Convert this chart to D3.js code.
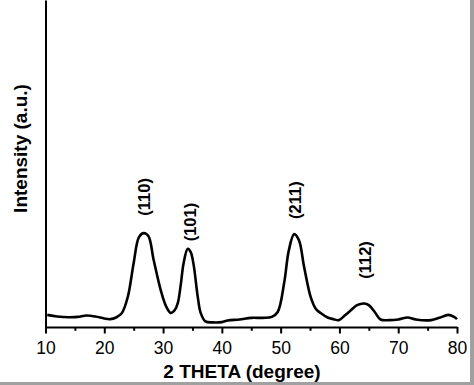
<!DOCTYPE html>
<html>
<head>
<meta charset="utf-8">
<script src="https://cdn.jsdelivr.net/npm/d3@7"></script>
<style>
  body { margin: 0; background: #fff; }
  svg { display: block; font-family: "Liberation Sans", Arial, sans-serif; }
</style>
</head>
<body>
<svg id="chart"></svg>
<script>
var width = 474;
var height = 385;

// XRD pattern (intensity in arbitrary units)
var twoTheta = [10.3, 12, 14, 15.5, 17, 18.5, 20, 21, 22, 23, 24, 25, 25.9, 26.7, 27.5, 28.4, 29.6, 30.5, 31.3,
    32, 32.5, 33, 33.5, 34.2, 34.7, 35.2, 35.9, 36.4, 37.2, 38.5, 40, 41, 43, 45, 47, 48.5, 49.5, 50.6, 51.4,
    52.3, 53.1, 54, 55.1, 56, 56.8, 58, 59, 59.9, 61, 62, 63, 64.2, 65, 66, 67, 68.5, 70, 71.6, 73, 75.6, 77,
    78.5, 79.5, 80];
var intensity = [3.7, 3.2, 3.0, 3.1, 3.5, 3.2, 2.6, 2.4, 2.9, 4.3, 9.2, 19.6, 27.5, 28.7, 27.8, 20.5, 11.3, 6.4, 4.3,
    5.2, 7.3, 12.8, 19.6, 23.9, 22.9, 19.0, 9.2, 4.3, 1.7, 1.4, 1.5, 2.0, 2.3, 2.8, 2.8, 3.1, 4.6, 13.5, 23.5,
    28.4, 26.6, 18.3, 9.2, 5.5, 4.3, 2.9, 2.4, 2.1, 3.7, 5.2, 6.7, 7.2, 6.7, 4.6, 2.3, 2.1, 2.3, 2.9, 2.3, 2.1, 2.8,
    3.7, 3.1, 2.4];

var peakLabels = ["(110)", "(101)", "(211)", "(112)"];
var peakTheta = [26.75, 34.5, 52.5, 64.3];
var peakLabelLevel = [39.8, 32.1, 38.8, 20.5];

var majorTicks = [10, 20, 30, 40, 50, 60, 70, 80];
var minorTicks = [15, 25, 35, 45, 55, 65, 75];

var data = twoTheta.map((t, i) => ({ t: t, v: intensity[i] }));

var svg = d3.select("#chart")
    .attr("width", width)
    .attr("height", height);

svg.append("rect")
    .attr("width", width)
    .attr("height", height)
    .attr("fill", "#fff");

// grey frame of the scanned figure
svg.append("rect")
    .attr("x", 470).attr("y", 0)
    .attr("width", 4).attr("height", height)
    .attr("fill", "#a0a0a0");
svg.append("rect")
    .attr("x", 0).attr("y", 382)
    .attr("width", width).attr("height", 3)
    .attr("fill", "#a0a0a0");

var x = d3.scaleLinear().domain([10, 80]).range([45.5, 457]);
var y = d3.scaleLinear().domain([0, 100]).range([327, 0]);

// minor ticks
svg.append("g")
    .attr("transform", "translate(0,327)")
    .call(d3.axisBottom(x).tickValues(minorTicks).tickSize(3.8).tickFormat(""))
    .call(g => g.select(".domain").remove())
    .selectAll("line").attr("stroke", "#000").attr("stroke-width", 2);

var xAxis = svg.append("g")
    .attr("transform", "translate(0,327)")
    .call(d3.axisBottom(x).tickValues(majorTicks).tickSize(6.5).tickSizeOuter(0).tickPadding(8.5));
xAxis.select(".domain").attr("stroke", "#000").attr("stroke-width", 2);
xAxis.selectAll(".tick line").attr("stroke", "#000").attr("stroke-width", 2);
xAxis.selectAll("text")
    .attr("fill", "#000")
    .style("font-size", "17.5px")
    .style("font-family", "Liberation Sans, Arial, sans-serif");

var yAxis = svg.append("g")
    .attr("transform", "translate(45.5,0)")
    .call(d3.axisLeft(y).tickValues([]).tickSizeOuter(0));
yAxis.select(".domain").attr("stroke", "#000").attr("stroke-width", 2);

var line = d3.line()
    .x(d => x(d.t))
    .y(d => y(d.v))
    .curve(d3.curveCatmullRom.alpha(0.5));

svg.append("path")
    .datum(data)
    .attr("d", line)
    .attr("fill", "none")
    .attr("stroke", "#000")
    .attr("stroke-width", 2.6)
    .attr("stroke-linejoin", "round");

svg.append("g")
    .selectAll("text")
    .data(peakLabels)
    .join("text")
    .attr("transform", (d, i) => `translate(${x(peakTheta[i])},${y(peakLabelLevel[i])}) rotate(-90)`)
    .attr("text-anchor", "middle")
    .attr("dominant-baseline", "central")
    .style("font-size", "16.5px")
    .style("font-weight", "bold")
    .text(d => d);

svg.append("text")
    .attr("x", 242)
    .attr("y", 378)
    .attr("text-anchor", "middle")
    .style("font-size", "19px")
    .style("font-weight", "bold")
    .text("2 THETA (degree)");

svg.append("text")
    .attr("transform", "translate(27,148.5) rotate(-90)")
    .attr("text-anchor", "middle")
    .style("font-size", "19px")
    .style("font-weight", "bold")
    .text("Intensity (a.u.)");
</script>
</body>
</html>
